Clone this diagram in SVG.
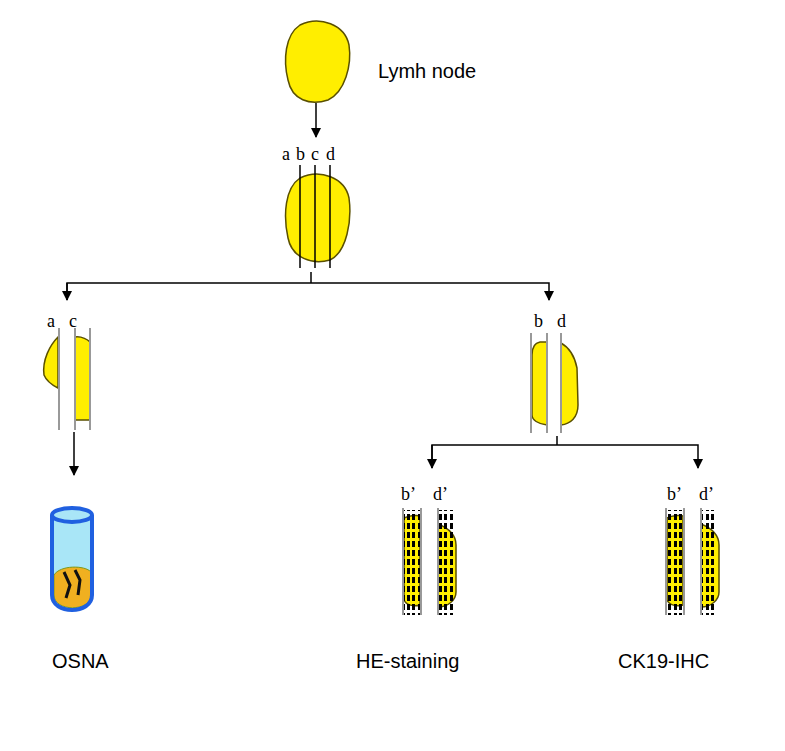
<svg xmlns="http://www.w3.org/2000/svg" width="785" height="751" viewBox="0 0 785 751">
<defs>
<style>
.lbl{font-family:"Liberation Sans",Arial,sans-serif;font-size:20px;fill:#000}
.ser{font-family:"Liberation Serif","Times New Roman",serif;font-size:18px;fill:#000}
.y{fill:#ffee00;stroke:#5a5000;stroke-width:1.5}
.g{stroke:#999;stroke-width:2}
.k{stroke:#000;stroke-width:1.5;fill:none}
</style>
<marker id="ar" markerWidth="10" markerHeight="10" refX="5" refY="9" markerUnits="userSpaceOnUse"><path d="M0,0 L10,0 L5,10 Z" fill="#000"/></marker>
<pattern id="dash" width="16" height="9" patternUnits="userSpaceOnUse"><rect x="2" y="1" width="3" height="6" fill="#000"/><rect x="7" y="1" width="3" height="6" fill="#000"/><rect x="12" y="1" width="3" height="6" fill="#000"/></pattern>
</defs>
<rect width="785" height="751" fill="#fff"/>
<g id="lymph-node">
<path class="y" d="M300,25 C320,15 345,25 349,45 C352,65 345,92 328,100 C310,106 292,100 288,80 C283,60 285,35 300,25 Z"/>
<text class="lbl" x="378" y="78">Lymh node</text>
</g>
<g id="sliced-node">
<path class="y" d="M300,178 C320,168 345,178 349,198 C352,220 347,252 330,260 C312,265 292,258 288,238 C283,215 285,188 300,178 Z"/>
<line class="k" x1="300" y1="165" x2="300" y2="268"/><line class="k" x1="315" y1="165" x2="315" y2="268"/><line class="k" x1="330" y1="165" x2="330" y2="268"/>
<text class="ser" x="282" y="160">a</text><text class="ser" x="296" y="160">b</text><text class="ser" x="311" y="160">c</text><text class="ser" x="326" y="160">d</text>
</g>
<g id="ac-slices">
<path class="y" d="M58,337 C50,345 42,360 44,375 C46,380 52,385 58,388 Z"/>
<path class="y" d="M75,337 C82,336 88,340 90,342 L90,420 L75,420 Z"/>
<line class="g" x1="59" y1="328" x2="59" y2="430"/><line class="g" x1="75" y1="328" x2="75" y2="430"/><line class="g" x1="90" y1="328" x2="90" y2="430"/>
<text class="ser" x="47" y="327">a</text><text class="ser" x="69" y="327">c</text>
</g>
<g id="osna">
<rect x="52" y="515" width="40" height="85" fill="#a9e6f7"/>
<path d="M54,575 C60,565 85,565 91,572 L91,595 C91,612 54,612 54,595 Z" fill="#f0b020" stroke="#7a9a20" stroke-width="1"/>
<path d="M64,572 L70,585 L66,598 M75,570 L80,580 L78,595" stroke="#111" stroke-width="3" fill="none"/>
<path d="M52,515 L52,595 C52,615 92,615 92,595 L92,515" fill="none" stroke="#2060e0" stroke-width="4"/>
<ellipse cx="72" cy="515" rx="20" ry="7" fill="#a9e6f7" stroke="#2060e0" stroke-width="4"/>
<text class="lbl" x="52" y="668">OSNA</text>
</g>
<g id="bd-slices">
<path class="y" d="M547,342 L540,342 C534,343 532,348 532,355 L532,415 C532,420 538,424 547,425 Z"/>
<path class="y" d="M561,343 C570,348 575,358 577,368 L578,405 C578,418 570,424 561,425 Z"/>
<line class="g" x1="531" y1="333" x2="531" y2="433"/><line class="g" x1="547" y1="333" x2="547" y2="433"/><line class="g" x1="561" y1="333" x2="561" y2="433"/>
<text class="ser" x="534" y="327">b</text><text class="ser" x="557" y="327">d</text>
</g>
<g id="he">
<path class="y" d="M404,518 C410,515 418,515 420,516 L420,605 C414,607 406,605 404,600 Z"/>
<path class="y" d="M438,524 C448,528 456,535 456,545 L456,592 C456,600 448,607 438,607 Z"/>
<rect x="404" y="510" width="16" height="105" fill="url(#dash)"/>
<rect x="437" y="510" width="16" height="105" fill="url(#dash)"/>
<line class="g" x1="403" y1="508" x2="403" y2="615"/><line class="g" x1="421" y1="508" x2="421" y2="615"/><line class="g" x1="438" y1="508" x2="438" y2="615"/>
<text class="ser" x="401" y="500">b’</text><text class="ser" x="433" y="500">d’</text>
<text class="lbl" x="356" y="668">HE-staining</text>
</g>
<g id="ck19">
<path class="y" d="M667,518 C673,515 681,515 683,516 L683,605 C677,607 669,605 667,600 Z"/>
<path class="y" d="M701,524 C711,528 719,535 719,545 L719,592 C719,600 711,607 701,607 Z"/>
<rect x="667" y="510" width="16" height="105" fill="url(#dash)"/>
<rect x="700" y="510" width="16" height="105" fill="url(#dash)"/>
<line class="g" x1="666" y1="508" x2="666" y2="615"/><line class="g" x1="684" y1="508" x2="684" y2="615"/><line class="g" x1="701" y1="508" x2="701" y2="615"/>
<text class="ser" x="667" y="500">b’</text><text class="ser" x="699" y="500">d’</text>
<text class="lbl" x="618" y="668">CK19-IHC</text>
</g>
<g id="connectors" class="k">
<line x1="316" y1="103" x2="316" y2="137" marker-end="url(#ar)"/>
<line x1="311" y1="272" x2="311" y2="283"/>
<path d="M67,300 L67,283 L549,283 L549,300" marker-end="url(#ar)"/>
<line x1="67" y1="283" x2="67" y2="300" marker-end="url(#ar)"/>
<line x1="74" y1="432" x2="74" y2="475" marker-end="url(#ar)"/>
<line x1="557" y1="436" x2="557" y2="445"/>
<path d="M432,468 L432,445 L698,445 L698,468" marker-end="url(#ar)"/>
<line x1="432" y1="445" x2="432" y2="468" marker-end="url(#ar)"/>
</g>
</svg>
